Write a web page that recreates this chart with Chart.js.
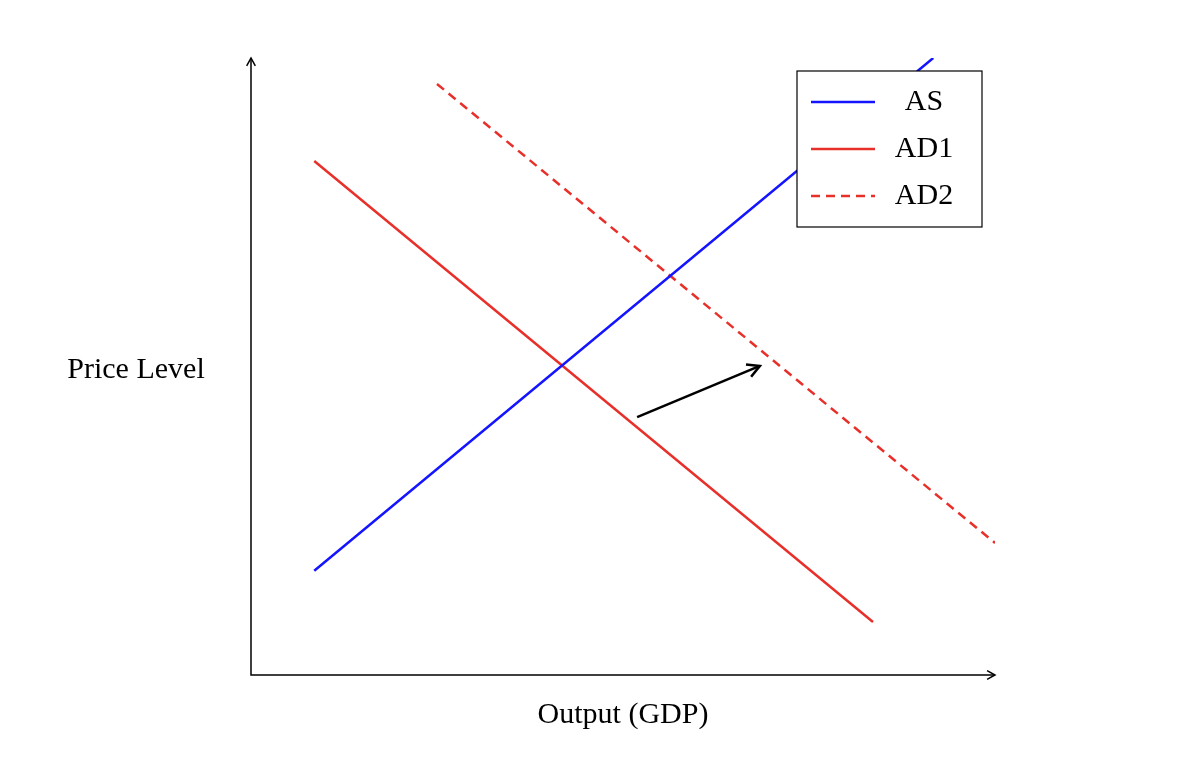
<!DOCTYPE html>
<html>
<head>
<meta charset="utf-8">
<script src="https://cdn.jsdelivr.net/npm/chart.js@4"></script>
<style>
  body { margin: 0; background: #fff; }
  #wrap { position: relative; width: 1190px; height: 780px; }
</style>
</head>
<body>
<div id="wrap"><canvas id="myChart" width="1190" height="780"></canvas></div>
<script>
// data (arbitrary units, axes 0..10)
const asX = [0.85, 9.17];
const asY = [1.69, 10];
const ad1X = [0.85, 8.36];
const ad1Y = [8.33, 0.86];
const ad2X = [2.5, 10];
const ad2Y = [9.58, 2.14];
const shiftX = [5.19, 6.84];
const shiftY = [4.18, 5.01];
const legendLabels = ['AS', 'AD1', 'AD2'];

const BLUE = 'rgb(20, 20, 255)';
const RED = 'rgb(232, 48, 42)';
const FONT = '"Liberation Serif", "DejaVu Serif", serif';

const pts = (xs, ys) => xs.map((x, i) => ({ x: x, y: ys[i] }));

function arrowHead(c, x, y, ang, len) {
    c.beginPath();
    c.moveTo(x - len * Math.cos(ang - 0.5), y - len * Math.sin(ang - 0.5));
    c.lineTo(x, y);
    c.lineTo(x - len * Math.cos(ang + 0.5), y - len * Math.sin(ang + 0.5));
    c.stroke();
}

const extras = {
    id: 'extras',
    afterDraw(chart) {
        const c = chart.ctx;
        const a = chart.chartArea;
        const sx = chart.scales.x, sy = chart.scales.y;
        c.save();
        // axes
        c.strokeStyle = '#000';
        c.lineWidth = 1.5;
        c.beginPath();
        c.moveTo(a.left, a.top);
        c.lineTo(a.left, a.bottom);
        c.lineTo(a.right, a.bottom);
        c.stroke();
        arrowHead(c, a.left, a.top, -Math.PI / 2, 9);
        arrowHead(c, a.right, a.bottom, 0, 9);
        // shift arrow head
        const x1 = sx.getPixelForValue(shiftX[0]), y1 = sy.getPixelForValue(shiftY[0]);
        const x2 = sx.getPixelForValue(shiftX[1]), y2 = sy.getPixelForValue(shiftY[1]);
        c.lineWidth = 2.5;
        arrowHead(c, x2, y2, Math.atan2(y2 - y1, x2 - x1), 14);
        // axis titles
        c.fillStyle = '#000';
        c.font = '30px ' + FONT;
        c.textAlign = 'center';
        c.textBaseline = 'middle';
        c.fillText('Price Level', 136, 370);
        c.fillText('Output (GDP)', (a.left + a.right) / 2, 715);
        // legend
        const lx = 797, ly = 71, lw = 185, lh = 156;
        c.fillStyle = '#fff';
        c.fillRect(lx, ly, lw, lh);
        c.lineWidth = 1.2;
        c.strokeStyle = '#000';
        c.strokeRect(lx, ly, lw, lh);
        const cols = [BLUE, RED, RED];
        legendLabels.forEach((lab, i) => {
            const yy = ly + 31 + i * 47;
            c.strokeStyle = cols[i];
            c.lineWidth = 2.5;
            c.setLineDash(i === 2 ? [9, 6] : []);
            c.beginPath();
            c.moveTo(lx + 14, yy);
            c.lineTo(lx + 78, yy);
            c.stroke();
            c.setLineDash([]);
            c.fillStyle = '#000';
            c.fillText(lab, lx + 127, yy);
        });
        c.restore();
    }
};

const ctx = document.getElementById('myChart').getContext('2d');
const myChart = new Chart(ctx, {
    type: 'scatter',
    data: {
        datasets: [
            { label: 'AS', data: pts(asX, asY), showLine: true, borderColor: BLUE, borderWidth: 2.5, pointRadius: 0 },
            { label: 'AD1', data: pts(ad1X, ad1Y), showLine: true, borderColor: RED, borderWidth: 2.5, pointRadius: 0 },
            { label: 'AD2', data: pts(ad2X, ad2Y), showLine: true, borderColor: RED, borderWidth: 2.5, borderDash: [9, 6], pointRadius: 0 },
            { label: 'shift', data: pts(shiftX, shiftY), showLine: true, borderColor: '#000', borderWidth: 2.5, pointRadius: 0 }
        ]
    },
    options: {
        responsive: false,
        animation: false,
        layout: { padding: { left: 251, top: 58, right: 195, bottom: 105 } },
        scales: {
            x: { type: 'linear', min: 0, max: 10, display: false },
            y: { type: 'linear', min: 0, max: 10, display: false }
        },
        plugins: {
            legend: { display: false },
            tooltip: { enabled: false }
        }
    },
    plugins: [extras]
});
</script>
</body>
</html>
